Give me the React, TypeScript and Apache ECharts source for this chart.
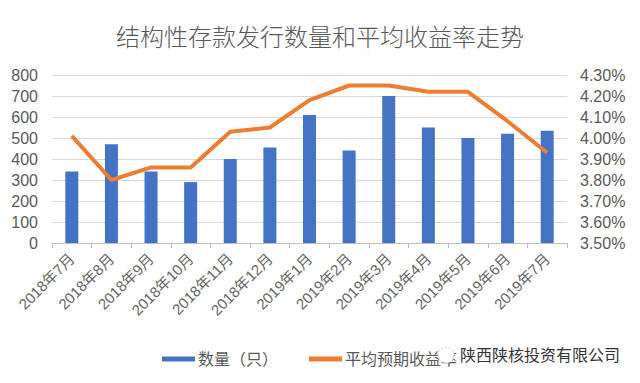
import React, { useEffect, useRef } from "react";
import * as echarts from "echarts";

const months = [
  "2018年7月", "2018年8月", "2018年9月", "2018年10月", "2018年11月", "2018年12月",
  "2019年1月", "2019年2月", "2019年3月", "2019年4月", "2019年5月", "2019年6月", "2019年7月",
];
const counts = [340, 470, 340, 290, 400, 455, 610, 440, 700, 550, 500, 520, 535];
const yieldRates = [4.01, 3.80, 3.86, 3.86, 4.03, 4.05, 4.18, 4.25, 4.25, 4.22, 4.22, 4.08, 3.93];

const FONT = "'Liberation Sans', Arial, 'Noto Sans CJK SC', sans-serif";
const GRAY = "#595959";

export default function App() {
  const ref = useRef<HTMLDivElement>(null);

  useEffect(() => {
    document.body.style.margin = "0";
    if (!ref.current) return;
    const chart = echarts.init(ref.current, undefined, { renderer: "svg" });
    chart.setOption({
      animation: false,
      backgroundColor: "#ffffff",
      textStyle: { fontFamily: FONT },
      title: {
        text: "结构性存款发行数量和平均收益率走势",
        left: "center",
        top: 20,
        textStyle: { fontSize: 24, fontWeight: 300, color: GRAY, fontFamily: FONT },
      },
      legend: {
        left: 157,
        top: 346,
        itemWidth: 33,
        itemHeight: 5,
        itemGap: 31,
        icon: "rect",
        textStyle: { fontSize: 16, color: GRAY, fontFamily: FONT, padding: [0, 0, 0, -2] },
        data: [
          { name: "数量（只）", icon: "rect" },
          { name: "平均预期收益率", icon: "rect" },
        ],
      },
      grid: { left: 52, right: 73, top: 75, bottom: 140 },
      xAxis: {
        type: "category",
        data: months,
        boundaryGap: true,
        axisLine: { lineStyle: { color: "#bfbfbf", width: 1 } },
        axisTick: { show: true, length: 5, lineStyle: { color: "#bfbfbf" } },
        axisLabel: { rotate: 45, interval: 0, fontSize: 15, color: "#666666", margin: 13 },
      },
      yAxis: [
        {
          type: "value",
          min: 0,
          max: 800,
          interval: 100,
          axisLine: { show: false },
          axisTick: { show: false },
          splitLine: { lineStyle: { color: "#d9d9d9", width: 1 } },
          axisLabel: { fontSize: 16, color: GRAY, margin: 14 },
        },
        {
          type: "value",
          min: 3.5,
          max: 4.3,
          interval: 0.1,
          axisLine: { show: false },
          axisTick: { show: false },
          splitLine: { show: false },
          axisLabel: {
            fontSize: 16,
            color: GRAY,
            margin: 13,
            formatter: (v: number) => v.toFixed(2) + "%",
          },
        },
      ],
      series: [
        {
          name: "数量（只）",
          type: "bar",
          data: counts,
          barWidth: 13,
          itemStyle: { color: "#4472c4" },
          yAxisIndex: 0,
        },
        {
          name: "平均预期收益率",
          type: "line",
          data: yieldRates,
          yAxisIndex: 1,
          symbol: "none",
          lineStyle: { color: "#ed7d31", width: 4 },
          itemStyle: { color: "#ed7d31" },
        },
      ],
      graphic: [
        {
          type: "circle",
          shape: { cx: 446, cy: 355, r: 8 },
          style: { fill: "#ffffff", stroke: "#c8c8c8", lineWidth: 1, lineDash: [2, 2] },
          z: 100,
        },
        {
          type: "text",
          x: 460,
          y: 355,
          style: {
            text: "陕西陕核投资有限公司",
            fontSize: 16,
            fontFamily: FONT,
            fill: "#333333",
            stroke: "#ffffff",
            lineWidth: 3,
            verticalAlign: "middle",
          },
          z: 100,
        },
      ],
    });
    return () => chart.dispose();
  }, []);

  return <div ref={ref} style={{ width: 640, height: 383 }} />;
}
